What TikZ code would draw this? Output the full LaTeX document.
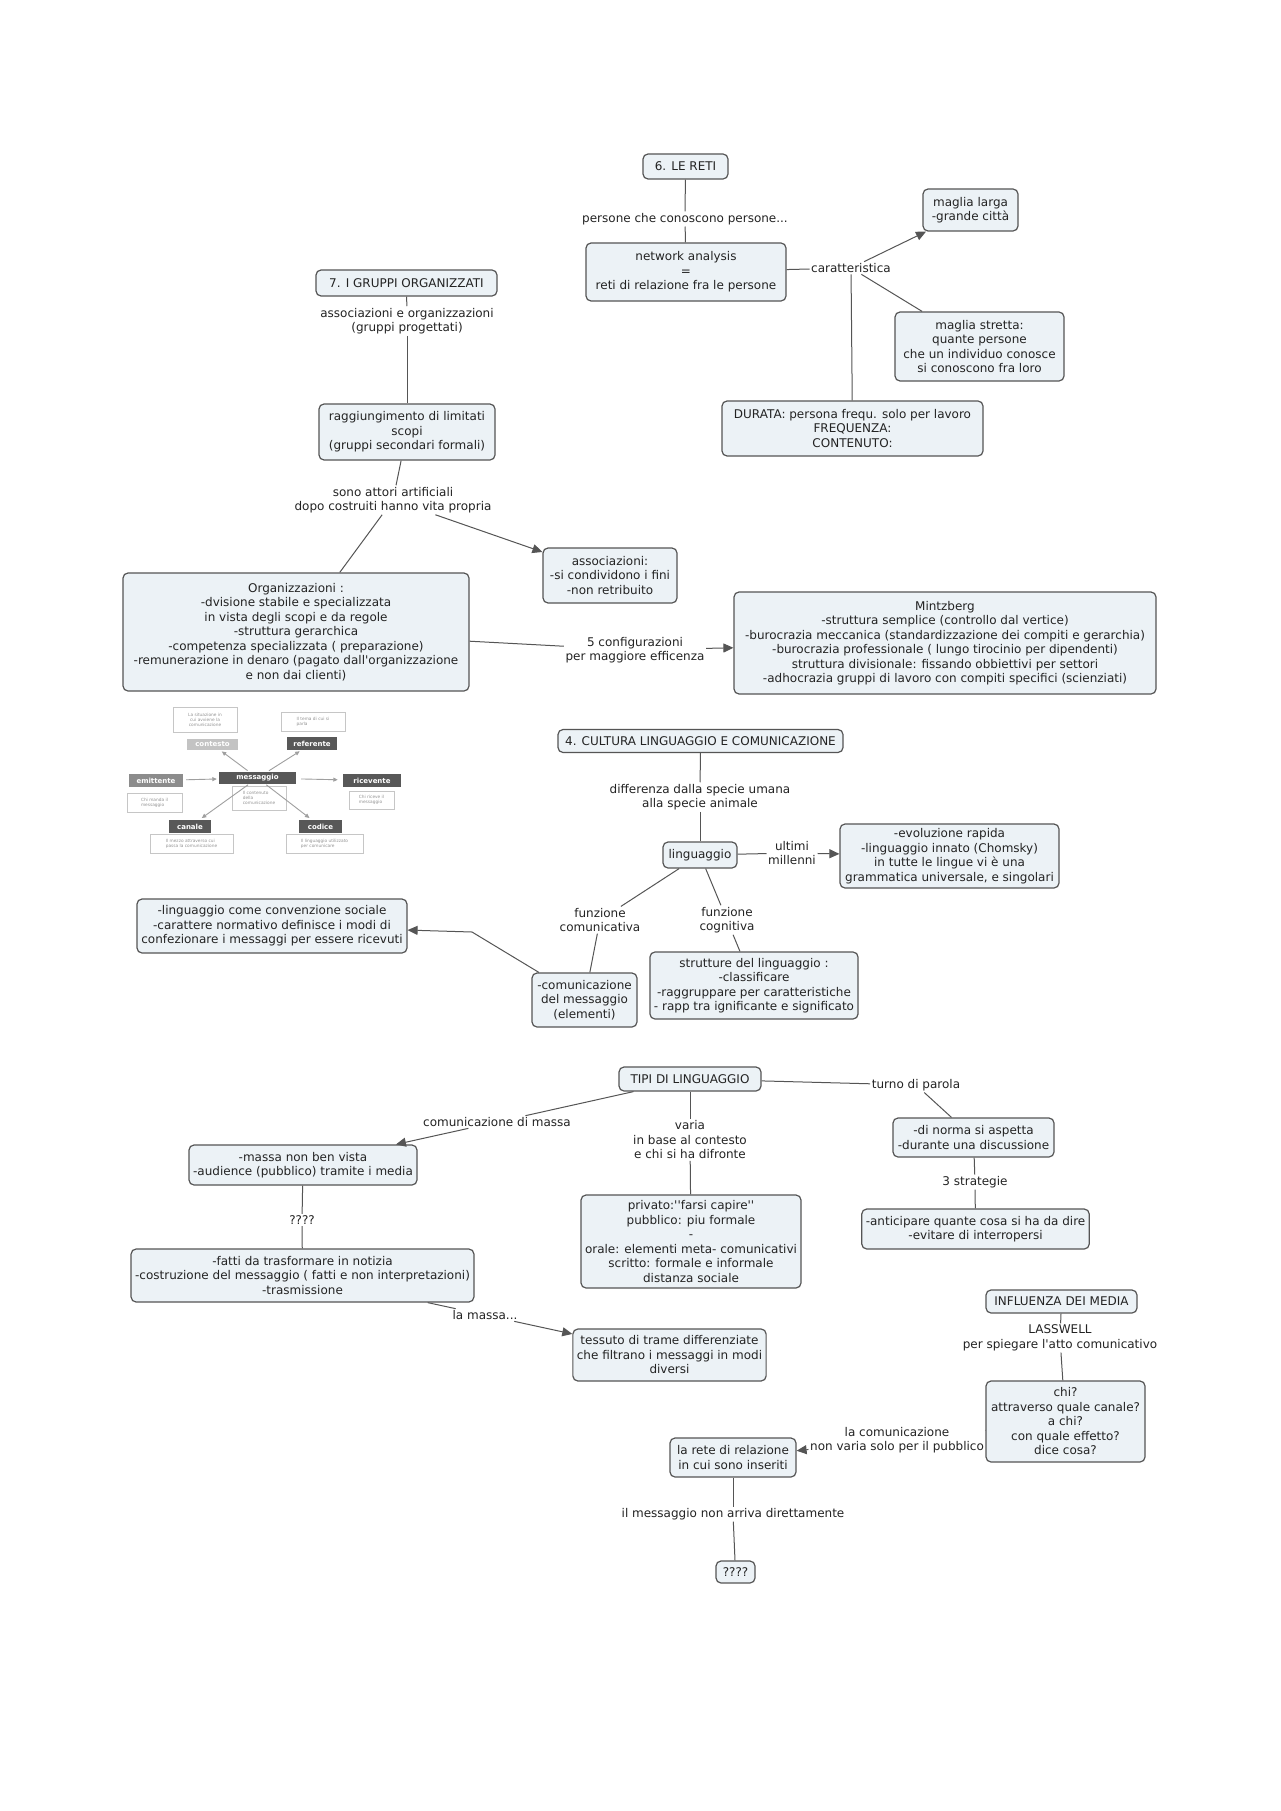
\documentclass[tikz,border=0pt]{standalone}
\usepackage{fontspec}
\setmainfont{DejaVu Sans}
\usetikzlibrary{arrows.meta}
\definecolor{boxfill}{RGB}{236,242,246}
\definecolor{boxdraw}{RGB}{85,85,85}
\definecolor{linkc}{RGB}{85,85,85}
\definecolor{txt}{RGB}{35,35,35}
\definecolor{cdarkc}{RGB}{88,88,88}
\definecolor{cmidc}{RGB}{140,140,140}
\definecolor{clightc}{RGB}{195,195,195}
\begin{document}
\begin{tikzpicture}[x=1pt,y=-1pt,
  box/.style={draw=boxdraw, fill=boxfill, rounded corners=5pt, line width=1.2pt, align=center,
              inner xsep=4pt, inner ysep=2pt, font=\fontsize{12}{14.5}\selectfont, text=txt},
  lbl/.style={align=center, inner sep=1.5pt, font=\fontsize{12}{14.5}\selectfont, text=txt},
  link/.style={draw=linkc, line width=1pt},
  arr/.style={link, -{Triangle[length=10pt,width=9pt]}},
  cbox/.style={fill=cdarkc, text=white, font=\fontsize{7}{8}\selectfont\bfseries, inner sep=0pt, minimum height=13pt},
  cdesc/.style={draw=gray!45, line width=0.8pt, fill=white, text=gray!85, font=\fontsize{4.3}{5}\selectfont, align=left, inner sep=1.5pt},
  carr/.style={draw=gray!75, line width=0.9pt, -{Triangle[length=4.5pt,width=4pt]}}]
\useasboundingbox[fill=white] (0,0) rectangle (1280,1811);

% ---------- 6. LE RETI ----------
\node[box,minimum width=85pt,minimum height=25pt] (reti) at (685.5,166.5) {6. LE RETI};
\node[lbl] (lpers) at (685,219) {persone che conoscono persone...};
\node[box,minimum width=200pt,minimum height=58pt] (netan) at (686,272) {network analysis\\=\\reti di relazione fra le persone};
\node[lbl] (lcar) at (851,268) {caratteristica};
\node[box,minimum width=95pt,minimum height=42pt] (larga) at (970.5,210) {maglia larga\\-grande città};
\node[box,minimum width=169pt,minimum height=69pt] (stretta) at (979.5,346.5) {maglia stretta:\\quante persone\\che un individuo conosce\\si conoscono fra loro};
\node[box,minimum width=261pt,minimum height=55pt] (durata) at (852.5,428.5) {DURATA: persona frequ. solo per lavoro\\FREQUENZA:\\CONTENUTO:};
\draw[link] (reti) -- (lpers);
\draw[link] (lpers) -- (netan);
\draw[link] (netan) -- (lcar);
\draw[arr] (lcar) -- (larga);
\draw[link] (lcar) -- (stretta);
\draw[link] (lcar) -- (durata);

% ---------- 7. I GRUPPI ORGANIZZATI ----------
\node[box,minimum width=181pt,minimum height=26pt] (grp) at (406.5,283) {7. I GRUPPI ORGANIZZATI};
\node[lbl] (lass) at (407,321) {associazioni e organizzazioni\\(gruppi progettati)};
\node[box,minimum width=176pt,minimum height=56pt] (ragg) at (407,432) {raggiungimento di limitati\\scopi\\(gruppi secondari formali)};
\node[lbl] (lsono) at (393,500) {sono attori artificiali\\dopo costruiti hanno vita propria};
\node[box,minimum width=134pt,minimum height=55pt] (assoc) at (610,575.5) {associazioni:\\-si condividono i fini\\-non retribuito};
\node[box,minimum width=346pt,minimum height=118pt] (org) at (296,632) {Organizzazioni :\\-dvisione stabile e specializzata\\in vista degli scopi e da regole\\-struttura gerarchica\\-competenza specializzata ( preparazione)\\-remunerazione in denaro (pagato dall{\textquotesingle}organizzazione\\e non dai clienti)};
\node[lbl] (lcfg) at (635,650) {5 configurazioni\\per maggiore efficenza};
\node[box,minimum width=422pt,minimum height=102pt] (mintz) at (945,643) {Mintzberg\\-struttura semplice (controllo dal vertice)\\-burocrazia meccanica (standardizzazione dei compiti e gerarchia)\\-burocrazia professionale ( lungo tirocinio per dipendenti)\\struttura divisionale: fissando obbiettivi per settori\\-adhocrazia gruppi di lavoro con compiti specifici (scienziati)};
\draw[link] (grp) -- (lass);
\draw[link] (lass) -- (ragg);
\draw[link] (ragg) -- (lsono);
\draw[link] (lsono) -- (org);
\draw[arr] (lsono) -- (assoc);
\draw[link] (org) -- (lcfg);
\draw[arr] (lcfg) -- (mintz);

% ---------- elementi della comunicazione ----------
\node[cdesc,align=center,minimum width=64pt,minimum height=25pt] (ctxd) at (205,719.5) {La situazione in\\cui avviene la\\comunicazione};
\node[cbox,fill=clightc,minimum width=51pt,minimum height=11pt] (ctx) at (212.5,744.5) {contesto};
\node[cdesc,minimum width=64pt,minimum height=19pt] (refd) at (313,721.5) {Il tema di cui si\\parla};
\node[cbox,minimum width=50pt] (ref) at (312,743.5) {referente};
\node[cbox,fill=cmidc,minimum width=54pt] (emi) at (156,780.5) {emittente};
\node[cdesc,minimum width=55pt,minimum height=19pt] (emid) at (154.5,802.5) {Chi manda il\\messaggio};
\node[cbox,minimum width=77pt,minimum height=12pt] (msg) at (257.5,778) {messaggio};
\node[cdesc,minimum width=54pt,minimum height=24pt] (msgd) at (259,798) {Il contenuto\\della\\comunicazione};
\node[cbox,minimum width=58pt] (ric) at (372,780.5) {ricevente};
\node[cdesc,minimum width=45pt,minimum height=18pt] (ricd) at (371.5,800) {Chi riceve il\\messaggio};
\node[cbox,minimum width=42pt] (can) at (190,826.5) {canale};
\node[cdesc,minimum width=83pt,minimum height=19pt] (cand) at (191.5,843.5) {Il mezzo attraverso cui\\passa la comunicazione};
\node[cbox,minimum width=43pt] (cod) at (320.5,826.5) {codice};
\node[cdesc,minimum width=77pt,minimum height=19pt] (codd) at (324.5,843.5) {Il linguaggio utilizzato\\per comunicare};
\draw[carr,shorten <=3pt,shorten >=2pt] (emi) -- (msg);
\draw[carr,shorten <=5pt,shorten >=5pt] (msg) -- (ric);
\draw[carr,shorten <=2pt,shorten >=2pt] (msg) -- (ctx);
\draw[carr,shorten <=2pt,shorten >=2pt] (msg) -- (ref);
\draw[carr,shorten <=1pt,shorten >=3pt] (msg) -- (can);
\draw[carr,shorten <=1pt,shorten >=3pt] (msg) -- (cod);

% ---------- 4. CULTURA LINGUAGGIO E COMUNICAZIONE ----------
\node[box,minimum width=285pt,minimum height=23pt] (cult) at (700.5,741) {4. CULTURA LINGUAGGIO E COMUNICAZIONE};
\node[lbl] (ldiff) at (700,797) {differenza dalla specie umana\\alla specie animale};
\node[box,minimum width=74pt,minimum height=26pt] (ling) at (700,855) {linguaggio};
\node[lbl] (lult) at (792,853) {ultimi\\millenni};
\node[box,minimum width=219pt,minimum height=64pt] (chom) at (949.5,856) {-evoluzione rapida\\-linguaggio innato (Chomsky)\\in tutte le lingue vi è una\\grammatica universale, e singolari};
\node[lbl] (lfcom) at (600,920) {funzione\\comunicativa};
\node[lbl] (lfcog) at (727,920) {funzione\\cognitiva};
\node[box,minimum width=105pt,minimum height=54pt] (comm) at (584.5,1000) {-comunicazione\\del messaggio\\(elementi)};
\node[box,minimum width=208pt,minimum height=67pt] (strut) at (754,985.5) {strutture del linguaggio :\\-classificare\\-raggruppare per caratteristiche\\- rapp tra ignificante e significato};
\node[box,minimum width=270pt,minimum height=54pt] (conv) at (272,926) {-linguaggio come convenzione sociale\\-carattere normativo definisce i modi di\\confezionare i messaggi per essere ricevuti};
\coordinate (bend) at (472,932);
\draw[link] (cult) -- (ldiff);
\draw[link] (ldiff) -- (ling);
\draw[link] (ling) -- (lult);
\draw[arr] (lult) -- (chom);
\draw[link] (ling) -- (lfcom);
\draw[link] (lfcom) -- (comm);
\draw[link] (ling) -- (lfcog);
\draw[link] (lfcog) -- (strut);
\draw[link] (comm) -- (bend);
\draw[arr] (bend) -- (conv);

% ---------- TIPI DI LINGUAGGIO ----------
\node[box,minimum width=142pt,minimum height=24pt] (tipi) at (690,1079) {TIPI DI LINGUAGGIO};
\node[lbl] (lturno) at (916,1085) {turno di parola};
\node[box,minimum width=161pt,minimum height=39pt] (norma) at (973.5,1137.5) {-di norma si aspetta\\-durante una discussione};
\node[lbl] (lstrat) at (975,1182) {3 strategie};
\node[box,minimum width=227pt,minimum height=40pt] (antic) at (975.5,1229) {-anticipare quante cosa si ha da dire\\-evitare di interropersi};
\node[lbl] (lvaria) at (690,1140) {varia\\in base al contesto\\e chi si ha difronte};
\node[box,minimum width=218pt,minimum height=93pt] (priv) at (691,1241.5) {privato:\textquotesingle\textquotesingle farsi capire\textquotesingle\textquotesingle\\pubblico: piu formale\\-\\orale: elementi meta- comunicativi\\scritto: formale e informale\\distanza sociale};
\node[lbl] (lmassa) at (497,1122) {comunicazione di massa};
\node[box,minimum width=228pt,minimum height=40pt] (massa) at (303,1165) {-massa non ben vista\\-audience (pubblico) tramite i media};
\node[lbl] (lqq) at (302,1220) {????};
\node[box,minimum width=339pt,minimum height=53pt] (fatti) at (302.5,1275.5) {-fatti da trasformare in notizia\\-costruzione del messaggio ( fatti e non interpretazioni)\\-trasmissione};
\node[lbl] (llam) at (485,1315) {la massa...};
\node[box,minimum width=193pt,minimum height=52pt] (tess) at (669.5,1355) {tessuto di trame differenziate\\che filtrano i messaggi in modi\\diversi};
\draw[link] (tipi) -- (lturno);
\draw[link] (lturno) -- (norma);
\draw[link] (norma) -- (lstrat);
\draw[link] (lstrat) -- (antic);
\draw[link] (tipi) -- (lvaria);
\draw[link] (lvaria) -- (priv);
\draw[link] (tipi) -- (lmassa);
\draw[arr] (lmassa) -- (massa);
\draw[link] (massa) -- (lqq);
\draw[link] (lqq) -- (fatti);
\draw[link] (fatti) -- (llam);
\draw[arr] (llam) -- (tess);

% ---------- INFLUENZA DEI MEDIA ----------
\node[box,minimum width=151pt,minimum height=23pt] (infl) at (1061.5,1301.5) {INFLUENZA DEI MEDIA};
\node[lbl] (llass) at (1060,1338) {LASSWELL\\per spiegare l{\textquotesingle}atto comunicativo};
\node[box,minimum width=159pt,minimum height=81pt] (chi) at (1065.5,1421.5) {chi?\\attraverso quale canale?\\a chi?\\con quale effetto?\\dice cosa?};
\node[lbl] (lcom) at (897,1440) {la comunicazione\\non varia solo per il pubblico};
\node[box,minimum width=126pt,minimum height=39pt] (rete) at (733,1457.5) {la rete di relazione\\in cui sono inseriti};
\node[lbl] (lmsg) at (733,1514) {il messaggio non arriva direttamente};
\node[box,minimum width=39pt,minimum height=22pt] (qq) at (735.5,1572) {????};
\draw[link] (infl) -- (llass);
\draw[link] (llass) -- (chi);
\draw[link] (chi) -- (lcom);
\draw[arr] (lcom) -- (rete);
\draw[link] (rete) -- (lmsg);
\draw[link] (lmsg) -- (qq);
\end{tikzpicture}
\end{document}
